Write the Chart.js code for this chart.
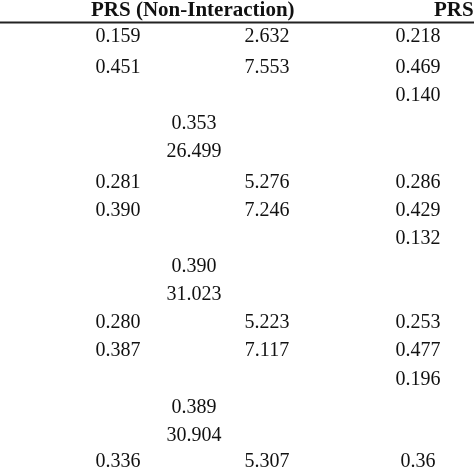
<!DOCTYPE html>
<html><head>
<script src="https://cdn.jsdelivr.net/npm/chart.js@4/dist/chart.umd.min.js"></script>
<style>html,body{margin:0;padding:0;background:#fff}#wrap{width:474px;height:474px}</style>
</head><body><div id="wrap"><canvas id="c"></canvas></div>
<script>
// column centres and row positions of the table (in a 0..474 coordinate space)
const colX = [118, 194, 267, 418];
const rowY = [37, 68, 96, 124, 152, 183, 211, 239, 267, 295, 323, 351, 380, 408, 436, 462];
// cells: [row, col, text]
const cells = [
    [0, 0, "0.159"], [0, 2, "2.632"], [0, 3, "0.218"],
    [1, 0, "0.451"], [1, 2, "7.553"], [1, 3, "0.469"],
    [2, 3, "0.140"],
    [3, 1, "0.353"],
    [4, 1, "26.499"],
    [5, 0, "0.281"], [5, 2, "5.276"], [5, 3, "0.286"],
    [6, 0, "0.390"], [6, 2, "7.246"], [6, 3, "0.429"],
    [7, 3, "0.132"],
    [8, 1, "0.390"],
    [9, 1, "31.023"],
    [10, 0, "0.280"], [10, 2, "5.223"], [10, 3, "0.253"],
    [11, 0, "0.387"], [11, 2, "7.117"], [11, 3, "0.477"],
    [12, 3, "0.196"],
    [13, 1, "0.389"],
    [14, 1, "30.904"],
    [15, 0, "0.336"], [15, 2, "5.307"], [15, 3, "0.36"],
];
const headers = [[91, 11, "PRS (Non-Interaction)"], [434, 11, "PRS"]];
const ruleY = 22.5;

const tableText = {
    id: "tableText",
    afterDatasetsDraw(chart) {
        const { ctx, scales: { x, y } } = chart;
        ctx.save();
        ctx.fillStyle = "#111";
        ctx.textBaseline = "middle";
        ctx.textAlign = "left";
        ctx.font = "bold 21px 'Liberation Serif', serif";
        headers.forEach(([hx, hy, t]) => ctx.fillText(t, x.getPixelForValue(hx), y.getPixelForValue(hy)));
        ctx.strokeStyle = "#222";
        ctx.lineWidth = 2;
        ctx.beginPath();
        ctx.moveTo(x.getPixelForValue(0), y.getPixelForValue(ruleY));
        ctx.lineTo(x.getPixelForValue(474), y.getPixelForValue(ruleY));
        ctx.stroke();
        ctx.textAlign = "center";
        ctx.font = "20px 'Liberation Serif', serif";
        chart.data.datasets[0].data.forEach((p) => ctx.fillText(p.label, x.getPixelForValue(p.x), y.getPixelForValue(p.y)));
        ctx.restore();
    },
};

new Chart(document.getElementById("c"), {
    type: "scatter",
    data: {
        datasets: [{
            data: cells.map(([r, c, t]) => ({ x: colX[c], y: rowY[r], label: t })),
            pointRadius: 0,
        }],
    },
    options: {
        responsive: true,
        maintainAspectRatio: false,
        animation: false,
        layout: { padding: 0 },
        plugins: { legend: { display: false }, tooltip: { enabled: false } },
        scales: {
            x: { type: "linear", min: 0, max: 474, display: false },
            y: { type: "linear", min: 0, max: 474, reverse: true, display: false },
        },
    },
    plugins: [tableText],
});
</script>
</body></html>
